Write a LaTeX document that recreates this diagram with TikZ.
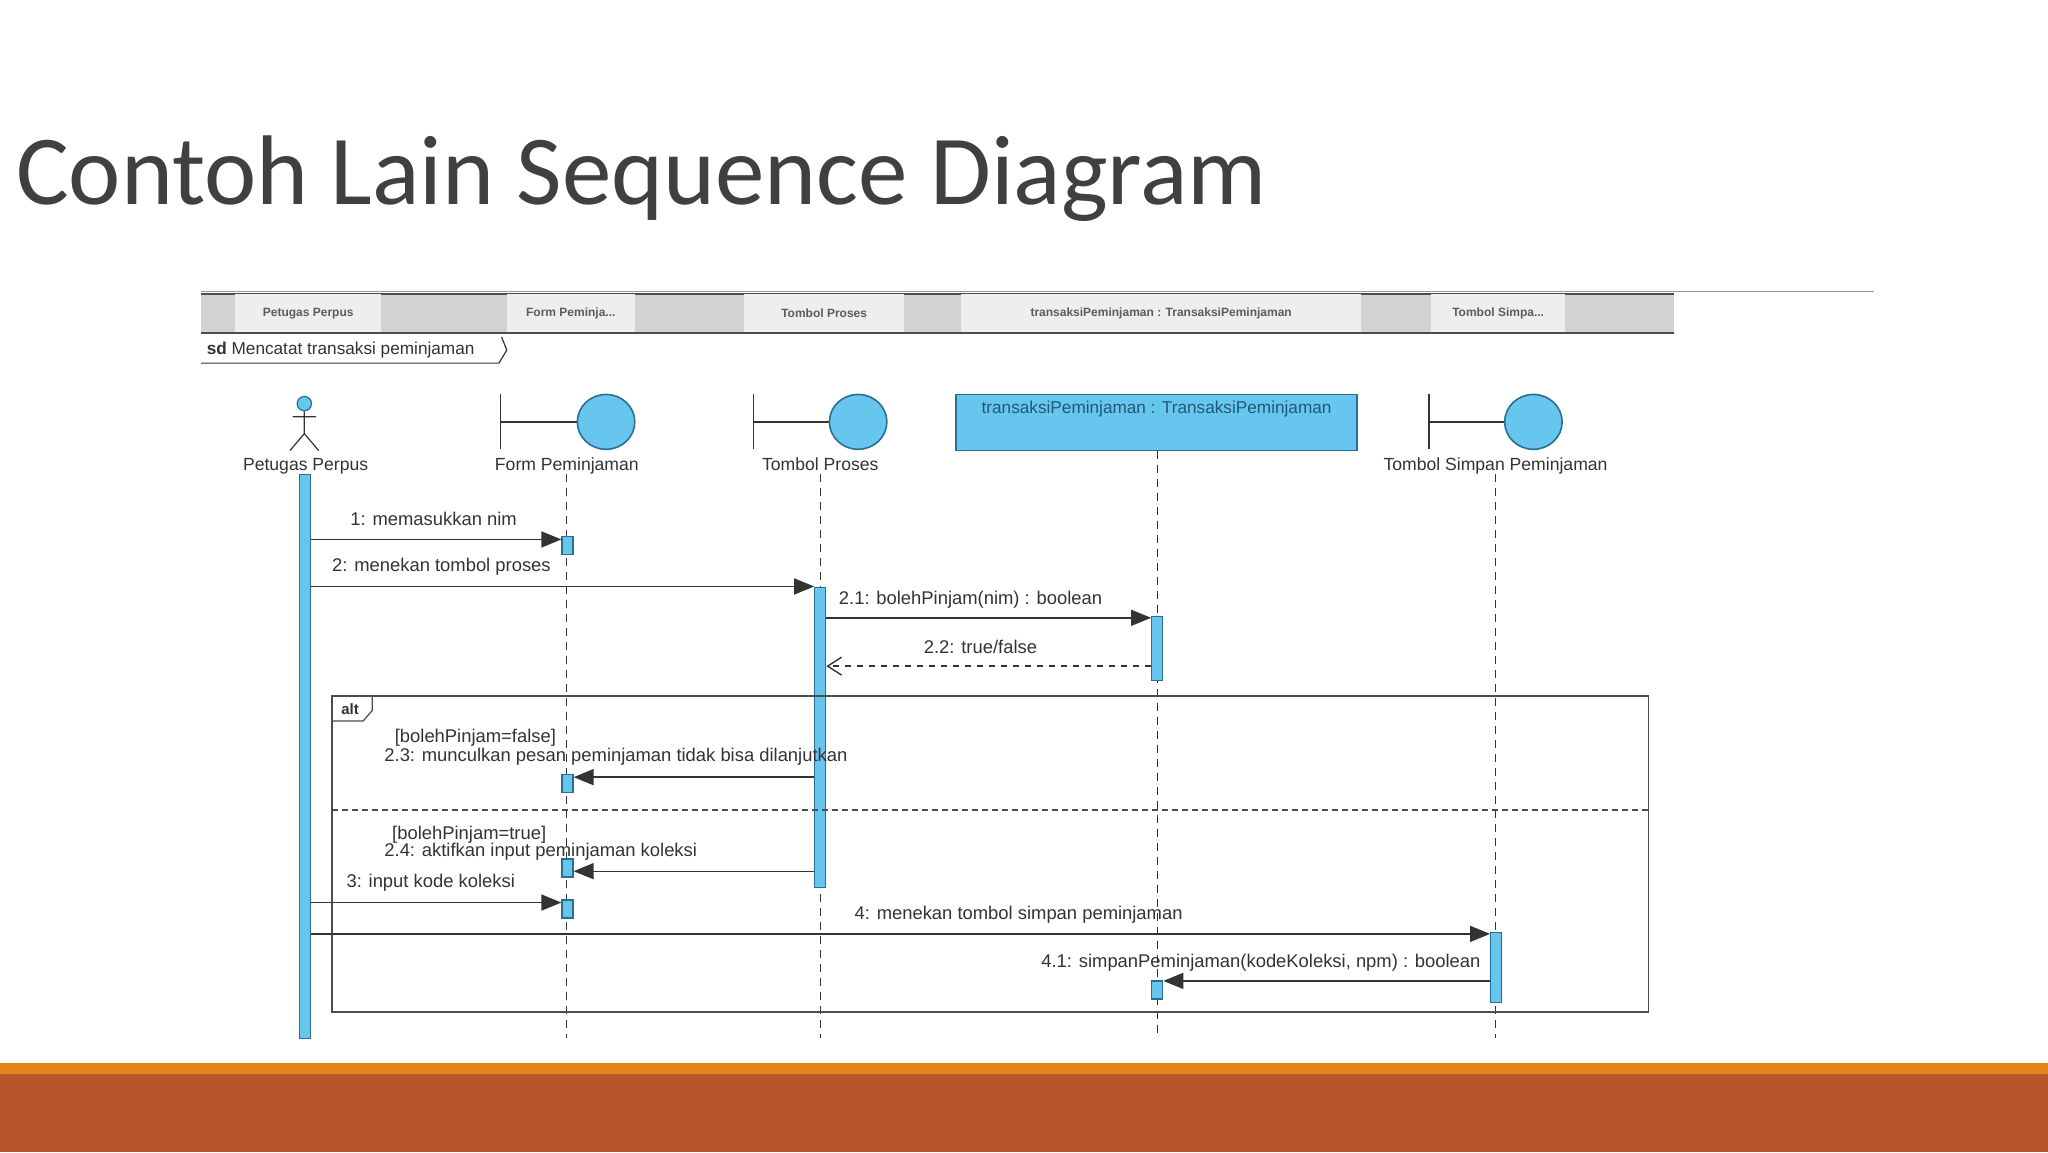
\documentclass[tikz,border=0pt]{standalone}
\usepackage{fontspec}
\setmainfont{Liberation Sans}
\newfontfamily\titlefont{Carlito}
\usetikzlibrary{arrows.meta}
\definecolor{lb}{HTML}{66C6EE}
\definecolor{lbd}{HTML}{2A6F93}
\definecolor{bandA}{HTML}{E2861C}
\definecolor{bandB}{HTML}{B9552B}
\definecolor{hdr}{HTML}{D2D2D2}
\definecolor{tab}{HTML}{EEEEEE}
\definecolor{txt}{HTML}{333333}
\begin{document}
\begin{tikzpicture}[x=0.65306pt,y=-0.65306pt,
  lbl/.style={font=\fontsize{9.2}{10}\selectfont,text=txt,inner sep=0pt,anchor=west},
  lname/.style={font=\fontsize{8.8}{10}\selectfont,text=txt,inner sep=0pt,anchor=base},
  htab/.style={draw=none,fill=tab,font=\fontsize{6}{7}\selectfont\bfseries,text=txt!80,inner sep=0pt},
  act/.style={draw=lbd,fill=lb,line width=0.6pt,inner sep=0pt,minimum width=5.5pt},
  life/.style={dash pattern=on 4pt off 3pt,line width=0.6pt,draw=black!80},
  msg/.style={line width=0.7pt,draw=black!80,-{Triangle[length=10pt,width=8pt]}},
  ret/.style={line width=0.7pt,draw=black!80,dashed,-{Straight Barb[length=7pt,width=9pt]}},
  bnd/.style={line width=0.7pt,draw=black!80}]
\useasboundingbox (0,0) rectangle (1568,882);
\fill[white] (0,0) rectangle (1568,882);
\fill[bandA] (0,814) rectangle (1568,822);
\fill[bandB] (0,822) rectangle (1568,882);
\node[font=\titlefont\fontsize{49.5}{54}\selectfont,text=black!75,anchor=west,inner sep=0pt] (title) at (12,137) {Contoh Lain Sequence Diagram};
% header bar
\draw[black!40,line width=0.5pt] (154,223) -- (1435,223);
\fill[hdr] (154,224) rectangle (1282,256);
\draw[black!70,line width=1pt] (154,225) -- (1282,225);
\draw[black!70,line width=1pt] (154,255) -- (1282,255);
\node[htab,minimum width=73pt,minimum height=19pt] (h1) at (236,240) {Petugas Perpus};
\node[htab,minimum width=64pt,minimum height=19pt] (h2) at (437,240) {Form Peminja...};
\node[htab,minimum width=80pt,minimum height=19pt] (h3) at (631,240) {Tombol Proses};
\node[htab,minimum width=200pt,minimum height=19pt] (h4) at (889,240) {transaksiPeminjaman : TransaksiPeminjaman};
\node[htab,minimum width=67pt,minimum height=19pt] (h5) at (1147,240) {Tombol Simpa...};
% sd frame label
\draw[black!80,line width=0.6pt] (154,278) -- (382,278) -- (388,268) -- (384,258);
\node[lbl,font=\fontsize{8.6}{9}\selectfont] (sd) at (158,268) {\textbf{sd} Mencatat transaksi peminjaman};
% actor
\draw[lbd,fill=lb,line width=0.6pt] (233,309) circle (5.5);
\draw[black!80,line width=0.6pt] (233,315) -- (233,332) (224,319) -- (242,319) (222,345) -- (233,332) -- (244,345);
\node[lname] (n1) at (234,360) {Petugas Perpus};
% boundaries
\foreach \lx/\cx in {383/464,577/657,1094/1174}{
  \draw[bnd] (\lx,302) -- (\lx,344) (\lx,323) -- (\cx-22,323);
  \draw[lbd,fill=lb,line width=0.8pt] (\cx,323) ellipse (22 and 21);
}
\node[lname] (n2) at (434,360) {Form Peminjaman};
\node[lname] (n3) at (628,360) {Tombol Proses};
\node[lname] (n5) at (1145,360) {Tombol Simpan Peminjaman};
% entity
\node[draw=lbd,fill=lb,line width=0.8pt,minimum width=200.5pt,minimum height=28pt,inner sep=0pt] (n4) at (885.5,323.5) {};
\node[font=\fontsize{8.6}{9}\selectfont,text=lbd!80!black,inner sep=0pt] (n4t) at (885.5,313) {transaksiPeminjaman : TransaksiPeminjaman};
% lifelines
\draw[life] (434,363) -- (434,795);
\draw[life] (628,363) -- (628,795);
\draw[life] (886,345) -- (886,795);
\draw[life] (1145,363) -- (1145,795);
% activations
\node[act,minimum height=282pt] (aA) at (233.5,579) {};
\node[act,minimum height=9pt] (aF1) at (434.5,417.5) {};
\node[act,minimum height=150pt] (aT) at (628,564.5) {};
\node[act,minimum height=32pt] (aX1) at (886,496.5) {};
\node[act,minimum height=9pt] (aF2) at (434.5,600) {};
\node[act,minimum height=9pt] (aF3) at (434.5,664.5) {};
\node[act,minimum height=9pt] (aF4) at (434.5,696) {};
\node[act,minimum height=35pt] (aS) at (1145.5,740.5) {};
\node[act,minimum height=9pt] (aX2) at (886,758) {};
% alt frame
\draw[black!70,line width=0.8pt] (254,533) rectangle (1262,775);
\draw[black!70,line width=0.6pt] (254,552) -- (278,552) -- (285,544) -- (285,533);
\node[lbl,font=\fontsize{7.5}{8}\selectfont\bfseries] (altl) at (261,543) {alt};
\draw[black!70,dash pattern=on 3pt off 2pt,line width=0.7pt] (254,620) -- (1262,620);
% messages
\draw[msg] (aA.east |- 0,413) -- (aF1.west |- 0,413);
\node[lbl] (m1) at (268,397) {1: memasukkan nim};
\draw[msg] (aA.east |- 0,449) -- (aT.west |- 0,449);
\node[lbl] (m2) at (254,434) {2: menekan tombol proses};
\draw[msg] (aT.east |- 0,473) -- (aX1.west |- 0,473);
\node[lbl] (m21) at (642,459) {2.1: bolehPinjam(nim) : boolean};
\draw[ret] (aX1.west |- 0,510) -- (aT.east |- 0,510);
\node[lbl] (m22) at (707,495) {2.2: true/false};
\draw[msg] (aT.west |- 0,595) -- (aF2.east |- 0,595);
\node[lbl] (g1) at (302,565) {[bolehPinjam=false]};
\node[lbl] (m23) at (294,579) {2.3: munculkan pesan peminjaman tidak bisa dilanjutkan};
\draw[msg] (aT.west |- 0,667) -- (aF3.east |- 0,667);
\node[lbl] (g2) at (300,639) {[bolehPinjam=true]};
\node[lbl] (m24) at (294,652) {2.4: aktifkan input peminjaman koleksi};
\draw[msg] (aA.east |- 0,691) -- (aF4.west |- 0,691);
\node[lbl] (m3) at (265,676) {3: input kode koleksi};
\draw[msg] (aA.east |- 0,715) -- (aS.west |- 0,715);
\node[lbl] (m4) at (654,700) {4: menekan tombol simpan peminjaman};
\draw[msg] (aS.west |- 0,751) -- (aX2.east |- 0,751);
\node[lbl] (m41) at (797,737) {4.1: simpanPeminjaman(kodeKoleksi, npm) : boolean};
\end{tikzpicture}
\end{document}
